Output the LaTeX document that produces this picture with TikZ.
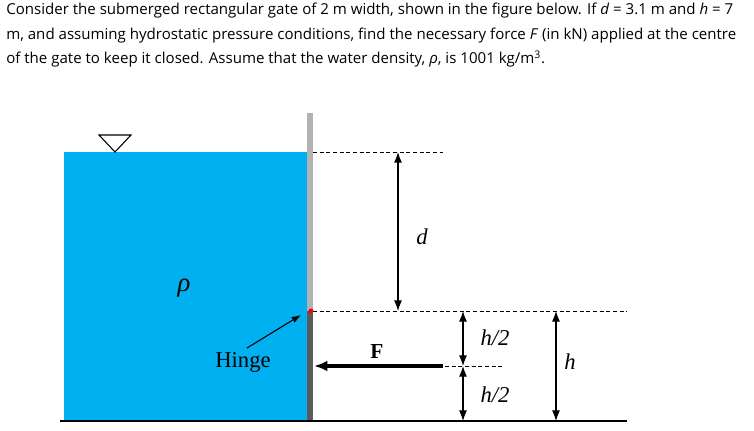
\documentclass[tikz,border=0pt]{standalone}
\usepackage{fontspec}
\usetikzlibrary{arrows.meta}
\setmainfont{Liberation Serif}
\newfontfamily\qfont{Open Sans}
\begin{document}
\begin{tikzpicture}[x=0.75pt,y=-0.75pt,
  dim/.style={{Latex[length=8pt,width=6pt]}-{Latex[length=8pt,width=6pt]},line width=0.8pt},
  dsh/.style={densely dashed,line width=0.5pt},
  lbl/.style={inner sep=0pt,font=\fontsize{17}{18}\selectfont\itshape}]
\useasboundingbox (0,0) rectangle (754,430);
\node[anchor=north west,inner sep=0pt,align=left,font=\qfont\fontsize{11.3}{18.4}\selectfont] (q) at (6,3)
{Consider the submerged rectangular gate of 2 m width, shown in the figure below. If \textit{d} = 3.1 m and \textit{h} = 7\\ m, and assuming hydrostatic pressure conditions, find the necessary force \textit{F} (in kN) applied at the centre\\ of the gate to keep it closed. Assume that the water density, \textit{ρ}, is 1001 kg/m\textsuperscript{3}.};
\fill[fill={rgb,255:red,0;green,176;blue,240}] (64,152) rectangle (307,421);
\fill[gray!60] (307,113) rectangle (313,311);
\fill[fill={rgb,255:red,90;green,90;blue,90}] (307,311) rectangle (313,421);
\fill[red] (311,311) circle (2.5);
\draw[line width=1pt] (60,421) -- (627,421);
\draw[line width=0.8pt] (99,135) -- (131,135) -- (115,152) -- cycle;
\draw[dsh] (313,152) -- (443,152);
\draw[dsh] (313,311) -- (627,311);
\draw[dsh] (445,366) -- (503,366);
\coordinate (dt) at (398,152); \coordinate (db) at (398,311);
\draw[dim] (dt) -- (db);
\coordinate (a1) at (463,311); \coordinate (a2) at (463,366); \coordinate (a3) at (463,421);
\draw[dim] (a1) -- (a2); \draw[dim] (a2) -- (a3);
\coordinate (h1) at (556,311); \coordinate (h2) at (556,421);
\draw[dim] (h1) -- (h2);
\coordinate (fs) at (443,366); \coordinate (fe) at (314,366);
\draw[-{Latex[length=10pt,width=8pt]},line width=2.5pt] (fs) -- (fe);
\node[lbl] (ld) at (422,237) {d};
\node[lbl] (lh1) at (495,338) {h/2};
\node[lbl] (lh2) at (495,395) {h/2};
\node[lbl] (lh) at (570,362) {h};
\node[inner sep=0pt,font=\fontsize{16}{18}\selectfont\bfseries] (lf) at (377,352) {F};
\node[inner sep=0pt,font=\fontsize{17}{18}\selectfont] (lhinge) at (243,362) {Hinge};
\node[inner sep=0pt,font=\fontsize{20}{22}\selectfont\itshape] (rho) at (184,288) {ρ};
\coordinate (hp) at (301,315);
\draw[-{Latex[length=7pt,width=5pt]},line width=0.8pt] (247,348) -- (hp);
\end{tikzpicture}
\end{document}
